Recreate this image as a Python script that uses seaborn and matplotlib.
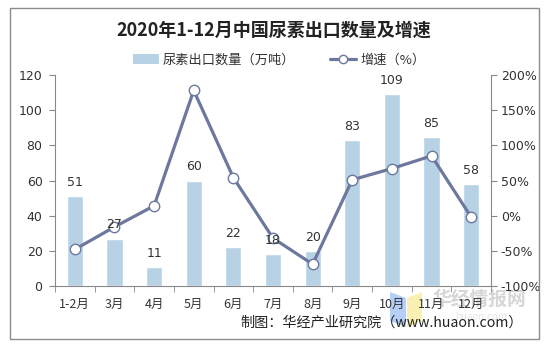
import matplotlib
matplotlib.use("Agg")
import matplotlib.pyplot as plt
import seaborn as sns
import pandas as pd
import numpy as np
from matplotlib.patches import Rectangle, Patch, Polygon
from matplotlib.lines import Line2D

categories = ["1-2月", "3月", "4月", "5月", "6月", "7月", "8月", "9月", "10月", "11月", "12月"]
volume = [51, 27, 11, 60, 22, 18, 20, 83, 109, 85, 58]
growth = [-48, -16, 14, 178, 54, -32, -69, 51, 67, 85, -2]
left_ticks = [0, 20, 40, 60, 80, 100, 120]
right_ticks = [-100, -50, 0, 50, 100, 150, 200]

sns.set_style("white")
plt.rcParams['font.family'] = ['Noto Sans CJK SC', 'DejaVu Sans']

bar_color = "#B7D2E5"
line_color = "#6C789D"
text_color = "#333333"
axis_color = "#888888"

df = pd.DataFrame({"cat": categories, "vol": volume, "gr": growth})

W, H = 547, 347
fig = plt.figure(figsize=(W / 100, H / 100), dpi=100)
fig.patch.set_facecolor("white")


def fx(px):
    return px / W


def fy(py):
    return 1 - py / H


ax = fig.add_axes([fx(55), fy(286), (491 - 55) / W, (286 - 75) / H])
ax.set_facecolor("none")

sns.barplot(data=df, x="cat", y="vol", color=bar_color, width=0.41, ax=ax, saturation=1)
ax.set_ylim(0, 120)
ax.set_yticks(left_ticks)
ax.set_xlim(-0.5, len(categories) - 0.5)
ax.set_xlabel("")
ax.set_ylabel("")

ax2 = ax.twinx()
ax2.set_facecolor("none")
sns.pointplot(data=df, x="cat", y="gr", color=line_color, ax=ax2, markers="o",
              markersize=7.5, linewidth=2.3, markerfacecolor="white",
              markeredgecolor=line_color, markeredgewidth=1.0)
ax2.set_ylim(-100, 200)
ax2.set_yticks(right_ticks)
ax2.set_yticklabels([f"{t}%" for t in right_ticks])
ax2.set_ylabel("")
ax2.set_xlim(-0.5, len(categories) - 0.5)

for i, v in enumerate(volume):
    ax2.text(i, v + 4, str(v), ha="center", va="bottom", fontsize=9, color=text_color,
             family=['DejaVu Sans'], transform=ax.transData, zorder=10)

for a in (ax, ax2):
    a.spines["top"].set_visible(False)
    for s in ["left", "right", "bottom"]:
        a.spines[s].set_color(axis_color)
        a.spines[s].set_linewidth(0.8)
ax.spines["right"].set_visible(False)
ax2.spines["left"].set_visible(False)
ax2.spines["bottom"].set_visible(False)

ax.tick_params(axis="y", which="both", left=True, length=4, color=axis_color,
               labelsize=9, labelcolor=text_color, pad=5)
ax2.tick_params(axis="y", which="both", right=True, length=4, color=axis_color,
                labelsize=9, labelcolor=text_color, pad=3)
ax.tick_params(axis="x", which="major", bottom=False, labelsize=9, labelcolor=text_color, pad=5)
ax.set_xticks(np.arange(-0.5, len(categories), 1.0), minor=True)
ax.tick_params(axis="x", which="minor", bottom=True, length=4, color=axis_color)
for lbl in ax.get_yticklabels() + ax2.get_yticklabels():
    lbl.set_family(['DejaVu Sans'])

# title
fig.text(0.5, fy(30), "2020年1-12月中国尿素出口数量及增速", ha="center", va="center",
         fontsize=13, fontweight="bold", color="#222222")

# legend
handles = [Patch(facecolor=bar_color, edgecolor="none"),
           Line2D([0], [0], color=line_color, lw=2.3, marker="o", markersize=6,
                  markerfacecolor="white", markeredgecolor=line_color)]
fig.legend(handles, ["尿素出口数量（万吨）", "增速（%）"], loc="center",
           bbox_to_anchor=(fx(279), fy(60)), ncol=2, frameon=False, fontsize=9.5,
           handlelength=2.0, columnspacing=2.6, handletextpad=0.3, labelcolor=text_color)

# watermark logo + text (behind the axes' labels)
fig.patches.append(Polygon([(fx(390), fy(292)), (fx(406), fy(298)), (fx(406), fy(327)),
                            (fx(390), fy(321))], closed=True, transform=fig.transFigure,
                           facecolor="#A9C7F5", edgecolor="none", alpha=0.85, zorder=-5))
fig.patches.append(Polygon([(fx(407), fy(298)), (fx(422), fy(292)), (fx(422), fy(321)),
                            (fx(407), fy(327))], closed=True, transform=fig.transFigure,
                           facecolor="#FBEEA6", edgecolor="none", alpha=0.85, zorder=-5))
fig.text(fx(479), fy(299), "华经情报网", ha="center", va="center", fontsize=13.5,
         fontweight="bold", color="#D2D2D2", alpha=0.9, zorder=-4)
fig.text(fx(481), fy(317), "huaon.com", ha="center", va="center", fontsize=7,
         color="#E6E6E6", zorder=-4)

# source
fig.text(fx(523), fy(323), "制图：华经产业研究院（www.huaon.com）", ha="right", va="center",
         fontsize=10.2, color="#222222", zorder=5)

# outer border
fig.patches.append(Rectangle((fx(10), fy(339)), fx(529), 331 / H,
                             transform=fig.transFigure, fill=False,
                             edgecolor="#8C8C8C", linewidth=1.0))

fig.savefig("out.png", dpi=100, facecolor="white")
